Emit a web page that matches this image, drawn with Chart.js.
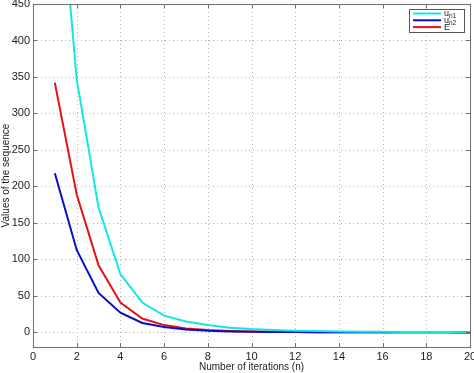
<!DOCTYPE html>
<html>
<head>
<meta charset="utf-8">
<script src="https://cdn.jsdelivr.net/npm/chart.js@4"></script>
<style>
html,body{margin:0;padding:0;background:#fff;}
#wrap{width:474px;height:373px;position:relative;}
</style>
</head>
<body>
<div id="wrap"><canvas id="c" width="474" height="373"></canvas></div>
<script>
const iterations = [1,2,3,4,5,6,7,8,9,10,11,12,13,14,15,16,17,18,19,20];
const un1 = [690,347,171,80,41,23,15,10,6.5,4.5,3.2,2.4,1.8,1.3,1.0,0.8,0.6,0.5,0.4,0.3];
const un2 = [218,113,54,27,13,7.5,4,2.3,1.4,0.9,0.6,0.4,0.3,0.2,0.15,0.1,0.08,0.06,0.05,0.04];
const eSeq = [342,189,92,41,19,10,5.5,3.2,2,1.2,0.8,0.5,0.35,0.25,0.18,0.12,0.09,0.07,0.05,0.04];
const seriesNames = ['u', 'u', 'E'];
const seriesSubs = ['n1', 'n2', ''];
const xTicks = [0,2,4,6,8,10,12,14,16,18,20];
const yTicks = [0,50,100,150,200,250,300,350,400,450];
const xTitle = 'Number of iterations (n)';
const yTitle = 'Values of the sequence';

const colors = ['#12e6e6', '#0c0cc8', '#e01414'];
const FONT = 'Liberation Sans, Arial, sans-serif';

function pts(arr){ return iterations.map((x,i)=>({x:x,y:arr[i]})); }

const gridPlugin = {
  id: 'dotgrid',
  beforeDatasetsDraw(chart){
    const ctx = chart.ctx, a = chart.chartArea;
    const xs = chart.scales.x, ys = chart.scales.y;
    ctx.save();
    ctx.strokeStyle = '#b4b4b4';
    ctx.lineWidth = 1;
    ctx.setLineDash([1,3]);
    ctx.beginPath();
    xs.ticks.forEach(t=>{
      const px = Math.round(xs.getPixelForValue(t.value))+0.5;
      ctx.moveTo(px, a.top); ctx.lineTo(px, a.bottom);
    });
    ys.ticks.forEach(t=>{
      const py = Math.round(ys.getPixelForValue(t.value))+0.5;
      ctx.moveTo(a.left, py); ctx.lineTo(a.right, py);
    });
    ctx.stroke();
    ctx.restore();
  }
};

const framePlugin = {
  id: 'frame',
  afterDatasetsDraw(chart){
    const ctx = chart.ctx, a = chart.chartArea;
    const xs = chart.scales.x, ys = chart.scales.y;
    ctx.save();
    ctx.strokeStyle = '#6e6e6e';
    ctx.lineWidth = 1;
    ctx.strokeRect(Math.round(a.left)+0.5, Math.round(a.top)+0.5, Math.round(a.right-a.left), Math.round(a.bottom-a.top));
    ctx.beginPath();
    xs.ticks.forEach(t=>{
      const px = Math.round(xs.getPixelForValue(t.value))+0.5;
      ctx.moveTo(px, a.bottom); ctx.lineTo(px, a.bottom-4);
      ctx.moveTo(px, a.top); ctx.lineTo(px, a.top+4);
    });
    ys.ticks.forEach(t=>{
      const py = Math.round(ys.getPixelForValue(t.value))+0.5;
      ctx.moveTo(a.left, py); ctx.lineTo(a.left+4, py);
      ctx.moveTo(a.right, py); ctx.lineTo(a.right-4, py);
    });
    ctx.stroke();
    // legend
    const bx = 409, by = 9, bw = 55, bh = 23;
    ctx.fillStyle = '#fff';
    ctx.fillRect(bx, by, bw, bh);
    ctx.strokeStyle = '#555';
    ctx.strokeRect(bx+0.5, by+0.5, bw, bh);
    chart.data.datasets.forEach((ds,i)=>{
      const y = by + 4.5 + i*6.8;
      ctx.strokeStyle = ds.borderColor;
      ctx.lineWidth = 2;
      ctx.beginPath(); ctx.moveTo(bx+4, y); ctx.lineTo(bx+32, y); ctx.stroke();
      ctx.fillStyle = '#222';
      ctx.textBaseline = 'middle';
      ctx.font = '9px ' + FONT;
      ctx.fillText(seriesNames[i], bx+35, y);
      if (seriesSubs[i]) {
        const w = ctx.measureText(seriesNames[i]).width;
        ctx.font = '6.5px ' + FONT;
        ctx.fillText(seriesSubs[i], bx+35+w, y+2.5);
      }
    });
    ctx.restore();
  }
};

new Chart(document.getElementById('c'), {
  type: 'line',
  data: {
    datasets: [
      {label: 'un1', data: pts(un1), borderColor: colors[0]},
      {label: 'un2', data: pts(un2), borderColor: colors[1]},
      {label: 'E', data: pts(eSeq), borderColor: colors[2]}
    ]
  },
  options: {
    responsive: false,
    animation: false,
    devicePixelRatio: 1,
    layout: {padding: {top: 4, right: 4, left: 0, bottom: 0}},
    elements: {line: {borderWidth: 2, tension: 0}, point: {radius: 0}},
    plugins: {legend: {display: false}, tooltip: {enabled: false}},
    scales: {
      x: {
        type: 'linear', min: 0, max: 20,
        afterBuildTicks(s){ s.ticks = xTicks.map(v=>({value:v})); },
        afterFit(s){ s.height = 26; s.paddingLeft = 0; s.paddingRight = 0; },
        grid: {display: false, drawTicks: false, tickLength: 0},
        border: {display: false},
        ticks: {color: '#222', font: {family: FONT, size: 11}, padding: 3, maxRotation: 0},
        title: {display: true, text: xTitle, color: '#222', font: {family: FONT, size: 10}, padding: {top: 0, bottom: 0}}
      },
      y: {
        type: 'linear', min: -20, max: 450,
        afterBuildTicks(s){ s.ticks = yTicks.map(v=>({value:v})); },
        afterFit(s){ s.width = 33; s.paddingTop = 0; s.paddingBottom = 0; },
        grid: {display: false, drawTicks: false, tickLength: 0},
        border: {display: false},
        ticks: {color: '#222', font: {family: FONT, size: 11}, padding: 3},
        title: {display: true, text: yTitle, color: '#222', font: {family: FONT, size: 10}, padding: {top: 0, bottom: 0}}
      }
    }
  },
  plugins: [gridPlugin, framePlugin]
});
</script>
</body>
</html>
